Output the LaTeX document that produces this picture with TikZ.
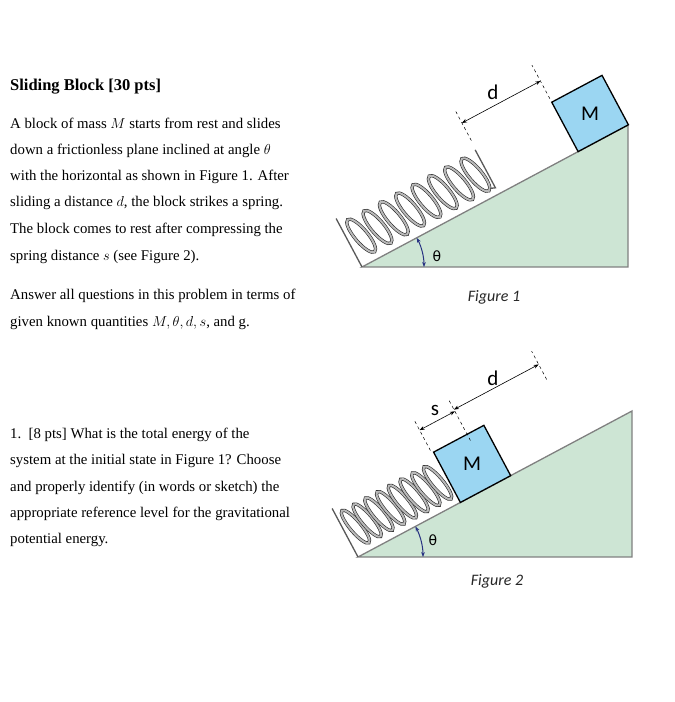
\documentclass[tikz,border=0pt]{standalone}
\usepackage{fontspec}
\setmainfont{Liberation Serif}
\newfontfamily\figfont{Carlito}
\newfontfamily\greekfont{DejaVu Sans}
\usetikzlibrary{arrows.meta}
\definecolor{slopegreen}{RGB}{205,229,212}
\definecolor{blockblue}{RGB}{155,214,242}
\definecolor{arcblue}{RGB}{40,50,130}
\tikzset{
  txt/.style={anchor=base west,inner sep=0,font=\fontsize{14.8}{17}\selectfont},
  ramp/.style={fill=slopegreen,draw=gray,line width=1.3pt},
  blockbox/.style={fill=blockblue,draw=black,line width=1.3pt},
  coil/.style={draw=gray!30!black,double=gray!55,double distance=2pt,line width=0.6pt},
  wallline/.style={draw=gray!70!black,line width=1.3pt},
  dimline/.style={draw=black,line width=0.6pt,{Stealth[length=5pt]}-{Stealth[length=5pt]}},
  dashline/.style={draw=black,line width=0.5pt,dash pattern=on 3pt off 3pt},
  anglearc/.style={draw=arcblue,line width=1pt,{Stealth[length=5pt]}-{Stealth[length=5pt]}},
  figlbl/.style={font=\figfont\fontsize{21}{24}\selectfont,inner sep=0},
  thlbl/.style={font=\greekfont\fontsize{14}{16}\selectfont,inner sep=0},
  caption/.style={font=\figfont\itshape\fontsize{16}{18}\selectfont,inner sep=0,text=gray!30!black}
}
\begin{document}
\begin{tikzpicture}[x=1pt,y=1pt]
\useasboundingbox (0,0) rectangle (675,702);
% ---- text
\node[txt,font=\bfseries\fontsize{16.5}{18}\selectfont] (title) at (10,611) {Sliding Block [30 pts]};
\node[txt] (p1) at (10,573) {A block of mass $M$ starts from rest and slides};
\node[txt] (p2) at (10,547) {down a frictionless plane inclined at angle $\theta$};
\node[txt] (p3) at (10,521) {with the horizontal as shown in Figure 1. After};
\node[txt] (p4) at (10,495) {sliding a distance $d$, the block strikes a spring.};
\node[txt] (p5) at (10,468) {The block comes to rest after compressing the};
\node[txt] (p6) at (10,441) {spring distance $s$ (see Figure 2).};
\node[txt] (a1) at (10,402) {Answer all questions in this problem in terms of};
\node[txt] (a2) at (10,375) {given known quantities $M,\theta,d,s$, and g.};
\node[txt] (q1) at (10,263) {1.\ \ [8 pts] What is the total energy of the};
\node[txt] (q2) at (10,237) {system at the initial state in Figure 1? Choose};
\node[txt] (q3) at (10,210) {and properly identify (in words or sketch) the};
\node[txt] (q4) at (10,184) {appropriate reference level for the gravitational};
\node[txt] (q5) at (10,158) {potential energy.};
% ---- Figure 1
\coordinate (A1) at (362,435);
\draw[ramp] (A1) -- (628,435) -- (628,577) -- cycle;
\begin{scope}[shift={(A1)},rotate=28.1]
  \draw[wallline] (0,0) -- (0,55);
  \foreach \i in {0,...,7} {\draw[coil,rotate around={12:(14+\i*18.5,28)}] (14+\i*18.5,28) ellipse (6.5 and 21);}
  \draw[wallline] (150,9) -- (155,7) -- (155,50);
  \draw[blockbox] (245,0) rectangle (302,56);
  \coordinate (dA) at (156,80); \coordinate (dB) at (245,80);
  \draw[dashline] (156,60) -- (156,95);
  \draw[dashline] (245,60) -- (245,98);
  \draw[dimline] (dA) -- (dB);
  \coordinate (M1) at (273.5,28);
\end{scope}
\node[figlbl] (m1) at (M1) {M};
\node[figlbl] (d1) at (493,610) {d};
\draw[anglearc] ([shift={(0:62)}]A1) arc (0:28.1:62);
\node[thlbl] (t1) at (437,446) {θ};
\node[caption] (c1) at (494,405) {Figure 1};
% ---- Figure 2
\coordinate (A2) at (358,145);
\draw[ramp] (A2) -- (632,145) -- (632,291) -- cycle;
\begin{scope}[shift={(A2)},rotate=28.05]
  \draw[wallline] (0,0) -- (0,55);
  \foreach \i in {0,...,7} {\draw[coil,rotate around={12:(12+\i*13.3,28)}] (12+\i*13.3,28) ellipse (5.5 and 21);}
  \draw[blockbox] (116,0) rectangle (173,57);
  \draw[dashline] (114,60) -- (114,95);
  \draw[dashline] (154,50) -- (154,95);
  \draw[dashline] (250,68) -- (250,100);
  \coordinate (sA) at (114,83); \coordinate (sB) at (154,83);
  \coordinate (dC) at (154,85); \coordinate (dD) at (250,85);
  \draw[dimline] (sA) -- (sB);
  \draw[dimline] (dC) -- (dD);
  \coordinate (M2) at (144.5,28.5);
\end{scope}
\node[figlbl] (m2) at (M2) {M};
\node[figlbl] (s2) at (435,292) {s};
\node[figlbl] (d2) at (493,324) {d};
\draw[anglearc] ([shift={(0:65)}]A2) arc (0:28.05:65);
\node[thlbl] (t2) at (433,162) {θ};
\node[caption] (c2) at (497,121) {Figure 2};
\end{tikzpicture}
\end{document}
